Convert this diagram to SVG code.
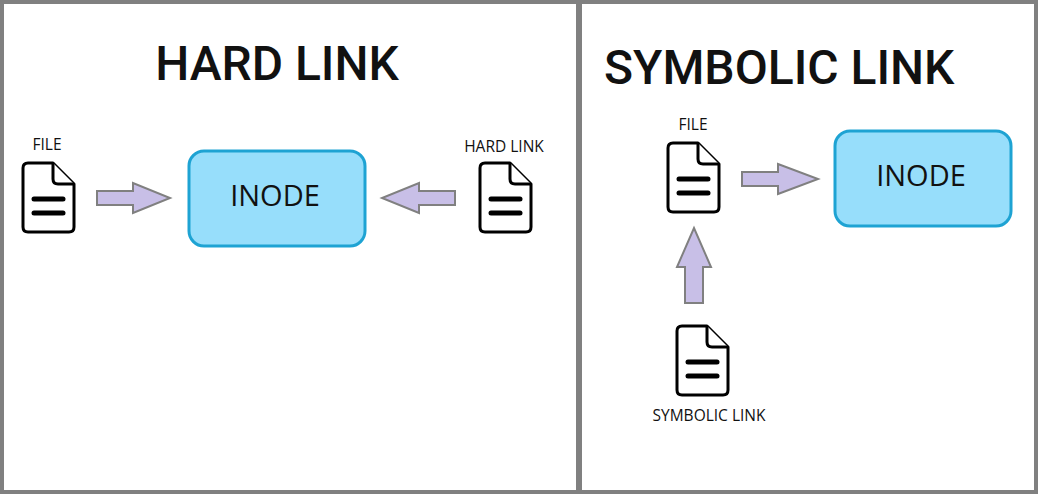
<svg xmlns="http://www.w3.org/2000/svg" width="1038" height="494" viewBox="0 0 1038 494">
<defs>
<style>
.title{font-family:Roboto,"DejaVu Sans",sans-serif;font-weight:500;font-size:48px;fill:#111}
.lbl{font-family:"Open Sans","Liberation Sans",sans-serif;font-size:15.5px;fill:#111;text-anchor:middle}
.box{fill:#97DEFB;stroke:#1EA3D3;stroke-width:3}
.boxt{font-family:"Open Sans","Liberation Sans",sans-serif;font-size:29px;fill:#111;text-anchor:middle}
.arr{fill:#C8BFE7;stroke:#808080;stroke-width:2}
.doc{fill:#fff;stroke:#000;stroke-width:3;stroke-linejoin:round}
.dl{stroke:#000;stroke-width:5;stroke-linecap:round}
</style>
<g id="docicon">
<path class="doc" d="M5,0 h25 l21,21 v43 q0,5 -5,5 h-41 q-5,0 -5,-5 v-59 q0,-5 5,-5 z"/>
<path class="doc" d="M30,0 v16 q0,5 5,5 h16"/>
<line class="dl" x1="11" y1="36" x2="40" y2="36"/>
<line class="dl" x1="11" y1="50" x2="40" y2="50"/>
</g>
</defs>
<rect x="0" y="0" width="1038" height="494" fill="#fff"/>
<rect x="2" y="2" width="1034" height="490" fill="none" stroke="#808080" stroke-width="4"/>
<rect x="576" y="0" width="6" height="494" fill="#808080"/>

<text class="title" x="277" y="80" text-anchor="middle">HARD LINK</text>
<text class="title" x="604" y="84">SYMBOLIC LINK</text>

<g id="file1"><text class="lbl" x="47" y="150">FILE</text><use href="#docicon" x="23" y="163"/></g>
<g id="inode1"><rect class="box" x="189" y="151" width="176" height="95" rx="15"/><text class="boxt" x="275" y="206">INODE</text></g>
<g id="hardlink"><text class="lbl" x="504" y="152">HARD LINK</text><use href="#docicon" x="480" y="163"/></g>

<g id="file2"><text class="lbl" x="693" y="130">FILE</text><use href="#docicon" x="668" y="143"/></g>
<g id="inode2"><rect class="box" x="835" y="131" width="176" height="95" rx="15"/><text class="boxt" x="921" y="186">INODE</text></g>
<g id="symlink"><use href="#docicon" x="677" y="326"/><text class="lbl" x="709" y="421">SYMBOLIC LINK</text></g>

<g id="connectors">
<path class="arr" d="M97,191 h36 v-8 l37,15 l-37,15 v-8 h-36 z"/>
<path class="arr" d="M455,191 h-36 v-8 l-37,15 l37,15 v-8 h36 z"/>
<path class="arr" d="M742,172 h36 v-8 l40,15 l-40,15 v-8 h-36 z"/>
<path class="arr" d="M685,303 v-36 h-8 l17,-39 l17,39 h-8 v36 z"/>
</g>
</svg>
